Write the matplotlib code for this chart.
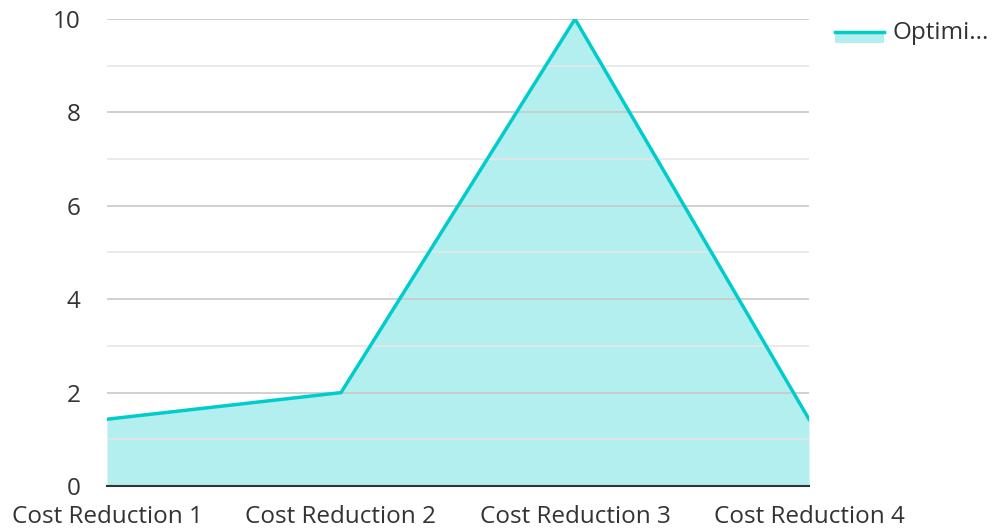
import matplotlib.pyplot as plt
from matplotlib.patches import Rectangle
from matplotlib.lines import Line2D

plt.rcParams['font.family'] = ['Open Sans', 'DejaVu Sans']

categories = ['Cost Reduction 1', 'Cost Reduction 2', 'Cost Reduction 3', 'Cost Reduction 4']
values = [1.43, 2.0, 10.0, 1.43]
series_name = 'Optimi...'
major_ticks = [0, 2, 4, 6, 8, 10]
minor_ticks = [1, 3, 5, 7, 9]

line_color = '#00cccc'
fill_color = '#b2efee'

fig = plt.figure(figsize=(9.95, 5.28), dpi=100)
ax = fig.add_axes([107 / 995, 1 - 486 / 528, (809 - 107) / 995, (486 - 19) / 528])

x = list(range(len(categories)))
ax.fill_between(x, values, 0, color=fill_color, linewidth=0, zorder=2)
ax.plot(x, values, color=line_color, linewidth=2.5, zorder=3, solid_joinstyle='miter')

ax.set_xlim(0, len(categories) - 1)
ax.set_ylim(0, 10)
ax.set_yticks(major_ticks)
ax.set_xticks(x)
ax.set_xticklabels(categories)

# gridlines drawn above the fill
for t in major_ticks[1:]:
    ax.axhline(t, color='#c8c8c8', linewidth=1.2, zorder=2.5)
for t in minor_ticks:
    ax.axhline(t, color='#e6e6e6', linewidth=1.2, zorder=2.5)

for s in ['top', 'right', 'left']:
    ax.spines[s].set_visible(False)
ax.spines['bottom'].set_color('#333333')
ax.spines['bottom'].set_linewidth(1.5)
ax.spines['bottom'].set_zorder(4)

ax.tick_params(axis='both', which='both', length=0, labelsize=17.5, colors='#333333')
ax.tick_params(axis='y', pad=19)
ax.tick_params(axis='x', pad=14)

# legend
fig.patches.append(Rectangle((835 / 995, 1 - 43 / 528), 49 / 995, 11 / 528,
                             transform=fig.transFigure, color=fill_color, linewidth=0))
fig.lines.append(Line2D([835 / 995, 884 / 995], [1 - 32 / 528, 1 - 32 / 528],
                        transform=fig.transFigure, color=line_color, linewidth=2.5))
fig.text(893 / 995, 1 - 33 / 528, series_name, fontsize=17.5, color='#333333',
         va='center', ha='left')

fig.savefig('out.png', dpi=100)
